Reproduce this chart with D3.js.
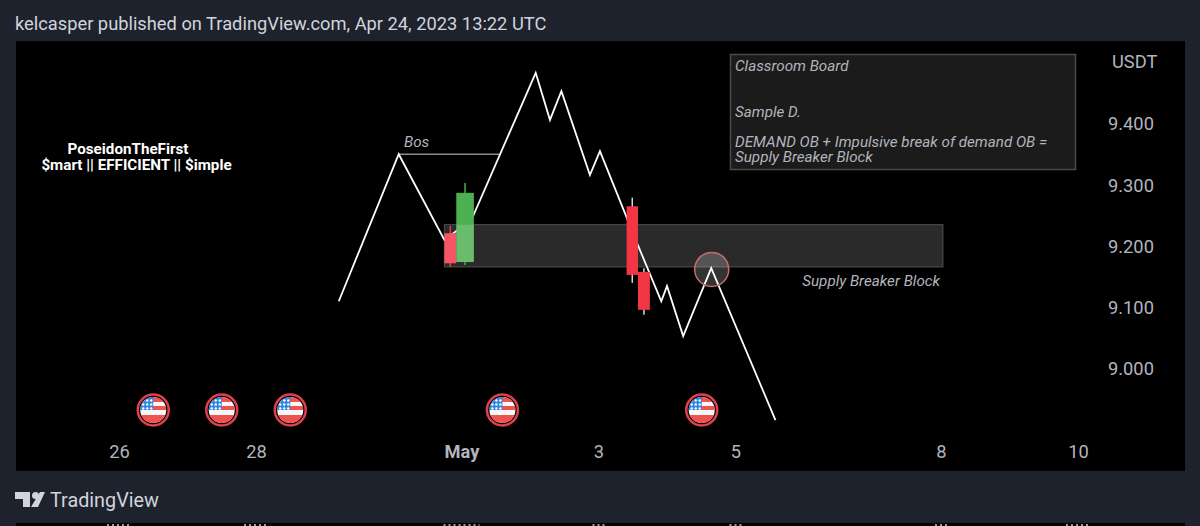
<!DOCTYPE html>
<html>
<head>
<meta charset="utf-8">
<script src="https://cdn.jsdelivr.net/npm/d3@7"></script>
<style>
  html, body { margin: 0; padding: 0; background: #1e222d; }
  svg { display: block; font-family: Roboto, sans-serif; }
  .axis text { font-family: Roboto, sans-serif; fill: #b2b5be; }
  .note { font-style: italic; fill: #b2b5be; font-size: 15.2px; }
</style>
</head>
<body>
<svg id="chart" width="1200" height="526"></svg>
<script>
// values
const xTickDates = ['2023-04-26', '2023-04-28', '2023-05-01', '2023-05-03', '2023-05-05', '2023-05-08', '2023-05-10'];
const xTickLabels = ['26', '28', 'May', '3', '5', '8', '10'];
const yTicks = [9.0, 9.1, 9.2, 9.3, 9.4];

const lineTimes = ['2023-04-29T05:00', '2023-04-30T02:00', '2023-04-30T18:00', '2023-05-01T03:30', '2023-05-02T02:00',
  '2023-05-02T07:00', '2023-05-02T11:00', '2023-05-02T21:00', '2023-05-03T00:30', '2023-05-03T13:30',
  '2023-05-03T22:00', '2023-05-04T00:00', '2023-05-04T05:40', '2023-05-04T15:30', '2023-05-05T14:00'];
const linePrices = [9.109, 9.349, 9.209, 9.242, 9.482, 9.405, 9.452, 9.315, 9.354, 9.204, 9.109, 9.134, 9.052, 9.163, 8.915];

const candleStart = ['2023-04-30T18:00', '2023-04-30T22:10', '2023-05-03T09:50', '2023-05-03T13:50'];
const candleEnd = ['2023-04-30T22:10', '2023-05-01T04:20', '2023-05-03T13:50', '2023-05-03T18:00'];
const candleOpen = [9.220, 9.173, 9.264, 9.157];
const candleClose = [9.171, 9.286, 9.152, 9.095];
const candleHigh = [9.232, 9.302, 9.278, 9.163];
const candleLow = [9.165, 9.168, 9.139, 9.087];

const blockTimes = ['2023-04-30T18:00', '2023-05-08T00:40'];
const blockPrices = [9.234, 9.165];
const bosTimes = ['2023-04-30T02:00', '2023-05-01T13:40'];
const bosPrice = 9.349;
const circleTime = '2023-05-04T15:40';
const circlePrice = 9.161;
const eventTimes = ['2023-04-26T12:00', '2023-04-27T12:00', '2023-04-28T12:00', '2023-05-01T14:20', '2023-05-04T12:10'];

const boardLines = ['Classroom Board', '', '', 'Sample D.', '', 'DEMAND OB + Impulsive break of demand OB =', 'Supply Breaker Block'];

const parse = s => new Date(s + (s.length > 10 ? ':00Z' : 'T00:00:00Z'));

const svg = d3.select('#chart');
const defs = svg.append('defs');
const x = d3.scaleUtc().domain([parse(xTickDates[0]), parse(xTickDates[6])]).range([119, 1078]);
const y = d3.scaleLinear().domain([9.0, 9.4]).range([368, 123]);

// page furniture
svg.append('text').attr('x', 15).attr('y', 30).attr('font-size', 18.3).attr('fill', '#d1d4dc')
  .text('kelcasper published on TradingView.com, Apr 24, 2023 13:22 UTC');
svg.append('rect').attr('x', 16).attr('y', 41).attr('width', 1169).attr('height', 430).attr('fill', '#000');
svg.append('rect').attr('x', 16).attr('y', 523).attr('width', 1169).attr('height', 3).attr('fill', '#000');

// tops of the repeated tick labels at the very bottom of the screenshot
svg.append('g').selectAll('line').data(xTickDates).enter().append('line')
  .attr('x1', (d, i) => x(parse(d)) - xTickLabels[i].length * 6)
  .attr('x2', (d, i) => x(parse(d)) + xTickLabels[i].length * 6)
  .attr('y1', 525).attr('y2', 525)
  .attr('stroke', '#9a9da6').attr('stroke-width', 2).attr('stroke-dasharray', '2 3');

const candles = candleOpen.map((o, i) => ({
  start: parse(candleStart[i]), end: parse(candleEnd[i]), open: o, close: candleClose[i], high: candleHigh[i], low: candleLow[i], i
}));
const candleColor = d => d.i === 1 ? '#4caf50' : '#f23645';

function drawCandles(g, data) {
  const c = g.selectAll('g').data(data).enter().append('g');
  c.append('line')
    .attr('x1', d => (x(d.start) + x(d.end)) / 2).attr('x2', d => (x(d.start) + x(d.end)) / 2)
    .attr('y1', d => y(d.high)).attr('y2', d => y(d.low))
    .attr('stroke', d => d.i > 1 ? '#d8d8d8' : candleColor(d)).attr('stroke-width', 1.5);
  c.append('rect')
    .attr('x', d => x(d.start)).attr('width', d => x(d.end) - x(d.start))
    .attr('y', d => y(Math.max(d.open, d.close)))
    .attr('height', d => Math.abs(y(d.open) - y(d.close)))
    .attr('fill', candleColor);
}

const blockX = x(parse(blockTimes[0]));
const blockW = x(parse(blockTimes[1])) - blockX;
const blockY = y(blockPrices[0]);
const blockBottom = y(blockPrices[1]);

svg.append('rect')
  .attr('x', blockX).attr('width', blockW).attr('y', blockY).attr('height', blockBottom - blockY)
  .attr('fill', 'rgba(255,255,255,0.165)').attr('stroke', '#505050').attr('stroke-width', 1);

svg.append('line')
  .attr('x1', x(parse(bosTimes[0]))).attr('x2', x(parse(bosTimes[1])))
  .attr('y1', y(bosPrice)).attr('y2', y(bosPrice))
  .attr('stroke', '#8a8a8a').attr('stroke-width', 1.5);

const line = d3.line().x(d => x(parse(d[0]))).y(d => y(d[1]));
svg.append('path')
  .datum(lineTimes.map((t, i) => [t, linePrices[i]]))
  .attr('d', line).attr('fill', 'none').attr('stroke', '#fff').attr('stroke-width', 1.8);

// first two candles sit over the line, the block tints them where they overlap
const paleCandles = candles.slice(0, 2);
drawCandles(svg.append('g'), paleCandles);
svg.append('g').selectAll('rect').data(paleCandles).enter().append('rect')
  .attr('x', d => x(d.start)).attr('width', d => x(d.end) - x(d.start))
  .attr('y', d => Math.max(blockY, y(Math.max(d.open, d.close))))
  .attr('height', d => Math.min(blockBottom, y(Math.min(d.open, d.close))) - Math.max(blockY, y(Math.max(d.open, d.close))))
  .attr('fill', 'rgba(255,255,255,0.165)');

drawCandles(svg.append('g'), candles.slice(2));

svg.append('circle')
  .attr('cx', x(parse(circleTime))).attr('cy', y(circlePrice)).attr('r', 17)
  .attr('fill', 'rgba(255,255,255,0.2)').attr('stroke', '#c46a6f').attr('stroke-width', 1.5);

// notes
svg.append('text').attr('class', 'note').attr('x', 404).attr('y', 147).text('Bos');
svg.append('text').attr('class', 'note').attr('x', 940).attr('y', 286).attr('text-anchor', 'end').text('Supply Breaker Block');

const title = svg.append('text').attr('text-anchor', 'middle').attr('fill', '#fff').attr('font-weight', 700).attr('font-size', 15.2);
title.append('tspan').attr('x', 128).attr('y', 154).text('PoseidonTheFirst');
title.append('tspan').attr('x', 136.5).attr('y', 170).text('$mart || EFFICIENT || $imple');

svg.append('rect').attr('x', 730.5).attr('y', 54.5).attr('width', 345).attr('height', 115)
  .attr('fill', '#1b1b1b').attr('stroke', '#4a4a4a').attr('stroke-width', 1.5);
const boardY = [71, 87, 102, 117, 132, 147, 162];
svg.append('g').selectAll('text').data(boardLines).enter().append('text')
  .attr('class', 'note').attr('x', 735).attr('y', (d, i) => boardY[i]).text(d => d);

// event flags
defs.append('clipPath').attr('id', 'flagClip').append('circle').attr('r', 13);
const flags = svg.append('g').selectAll('g').data(eventTimes).enter().append('g')
  .attr('transform', d => `translate(${x(parse(d))},410)`);
flags.append('circle').attr('r', 15.5).attr('fill', '#000').attr('stroke', '#e0404d').attr('stroke-width', 2.5);
const inner = flags.append('g').attr('clip-path', 'url(#flagClip)');
inner.append('rect').attr('x', -14).attr('y', -14).attr('width', 28).attr('height', 28).attr('fill', '#f8f8f8');
inner.append('rect').attr('x', -14).attr('y', -13).attr('width', 28).attr('height', 5).attr('fill', '#ef5350');
inner.append('rect').attr('x', -14).attr('y', -4).attr('width', 28).attr('height', 4).attr('fill', '#ef5350');
inner.append('rect').attr('x', -14).attr('y', 5).attr('width', 28).attr('height', 9).attr('fill', '#ef5350');
inner.append('rect').attr('x', -14).attr('y', -14).attr('width', 14).attr('height', 14).attr('fill', '#2f86e0');
[-10, -6, -2].forEach(a => [-9.5, -5.5, -1.5].forEach(b => inner.append('circle').attr('cx', a).attr('cy', b).attr('r', 1.2).attr('fill', '#fff')));

// axes
const xAxis = d3.axisBottom(x)
  .tickValues(xTickDates.map(parse))
  .tickSize(0)
  .tickFormat((d, i) => xTickLabels[i]);
const gx = svg.append('g').attr('class', 'axis').attr('transform', 'translate(0,443)').call(xAxis);
gx.select('.domain').remove();
gx.selectAll('text').attr('font-size', 18.3).attr('dy', 0).attr('y', 15)
  .attr('font-weight', (d, i) => xTickLabels[i] === 'May' ? 700 : 400);

const yAxis = d3.axisRight(y).tickValues(yTicks).tickSize(0).tickFormat(d3.format('.3f'));
const gy = svg.append('g').attr('class', 'axis').attr('transform', 'translate(1108,1)').call(yAxis);
gy.select('.domain').remove();
gy.selectAll('text').attr('font-size', 18.3).attr('x', 0);

svg.append('text').attr('x', 1112).attr('y', 68).attr('font-size', 18.3).attr('fill', '#b2b5be').text('USDT');

// logo
const logo = svg.append('g').attr('fill', '#d1d4dc');
logo.append('path').attr('d', 'M15 492H30V507H23V499H15Z');
logo.append('circle').attr('cx', 35.5).attr('cy', 495.5).attr('r', 3.5);
logo.append('path').attr('d', 'M40 492H45L38 507H31Z');
svg.append('text').attr('x', 50).attr('y', 507).attr('font-size', 19.8).attr('fill', '#d1d4dc').text('TradingView');
</script>
</body>
</html>
